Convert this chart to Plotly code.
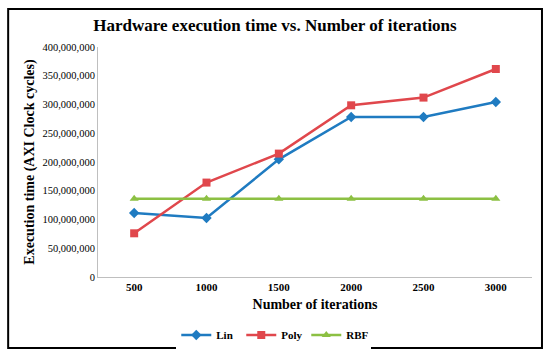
import plotly.graph_objects as go

iterations = ["500", "1000", "1500", "2000", "2500", "3000"]
lin = [111300000, 102600000, 204700000, 278300000, 278300000, 304300000]
poly = [76000000, 164200000, 214600000, 298600000, 312000000, 361700000]
rbf = [136000000, 136000000, 136000000, 136000000, 136000000, 136000000]
y_ticks = [0, 50000000, 100000000, 150000000, 200000000, 250000000, 300000000, 350000000, 400000000]

FONT = "Liberation Serif"

fig = go.Figure()
fig.add_trace(go.Scatter(x=iterations, y=lin, name="<b>Lin</b>", mode="lines+markers",
                         line=dict(color="#1f7bc1", width=2.5),
                         marker=dict(symbol="diamond", size=8, color="#1f7bc1")))
fig.add_trace(go.Scatter(x=iterations, y=poly, name="<b>Poly</b>", mode="lines+markers",
                         line=dict(color="#e0474c", width=2.5),
                         marker=dict(symbol="square", size=8, color="#e0474c")))
fig.add_trace(go.Scatter(x=iterations, y=rbf, name="<b>RBF</b>", mode="lines+markers",
                         line=dict(color="#8cc043", width=2.5),
                         marker=dict(symbol="triangle-up", size=8, color="#8cc043")))

fig.update_layout(
    width=550, height=357,
    margin=dict(l=98, r=18, t=47, b=80, autoexpand=False),
    paper_bgcolor="white", plot_bgcolor="white",
    font=dict(family=FONT, color="black"),
    title=dict(text="<b>Hardware execution time vs. Number of iterations</b>",
               x=0.5, xanchor="center", y=1 - 25 / 357, yanchor="middle",
               font=dict(family=FONT, size=17, color="black")),
    xaxis=dict(type="category", range=[-0.5, 5.5], showgrid=False, automargin=False,
               showline=True, linecolor="#bfbfbf", linewidth=1,
               ticks="", tickfont=dict(family=FONT, size=11, color="black"),
               tickprefix="<b>", ticksuffix="</b>",
               title=dict(text="<b>Number of iterations</b>", standoff=6,
                          font=dict(family=FONT, size=14, color="black"))),
    yaxis=dict(range=[0, 400000000], tickvals=y_ticks, tickformat=",d",
               showgrid=False, zeroline=False, automargin=False,
               showline=True, linecolor="#bfbfbf", linewidth=1,
               ticks="", tickfont=dict(family=FONT, size=10.5, color="black"),
               tickprefix="<b>", ticksuffix="</b>",
               title=dict(text="<b>Execution time (AXI Clock cycles)</b>", standoff=4,
                          font=dict(family=FONT, size=14, color="black"))),
    legend=dict(orientation="h", x=0.405, xanchor="center", y=-0.252, yanchor="middle",
                font=dict(family=FONT, size=11, color="black"),
                itemwidth=30, tracegroupgap=0, entrywidth=20, entrywidthmode="pixels"),
    shapes=[dict(type="rect", xref="paper", yref="paper",
                 x0=-0.207, x1=1.023, y0=-0.309, y1=1.165,
                 line=dict(color="black", width=2), fillcolor="rgba(0,0,0,0)")],
)

fig.write_html("out.html", config={"displayModeBar": False},
               post_script="document.body.style.margin='0';")
